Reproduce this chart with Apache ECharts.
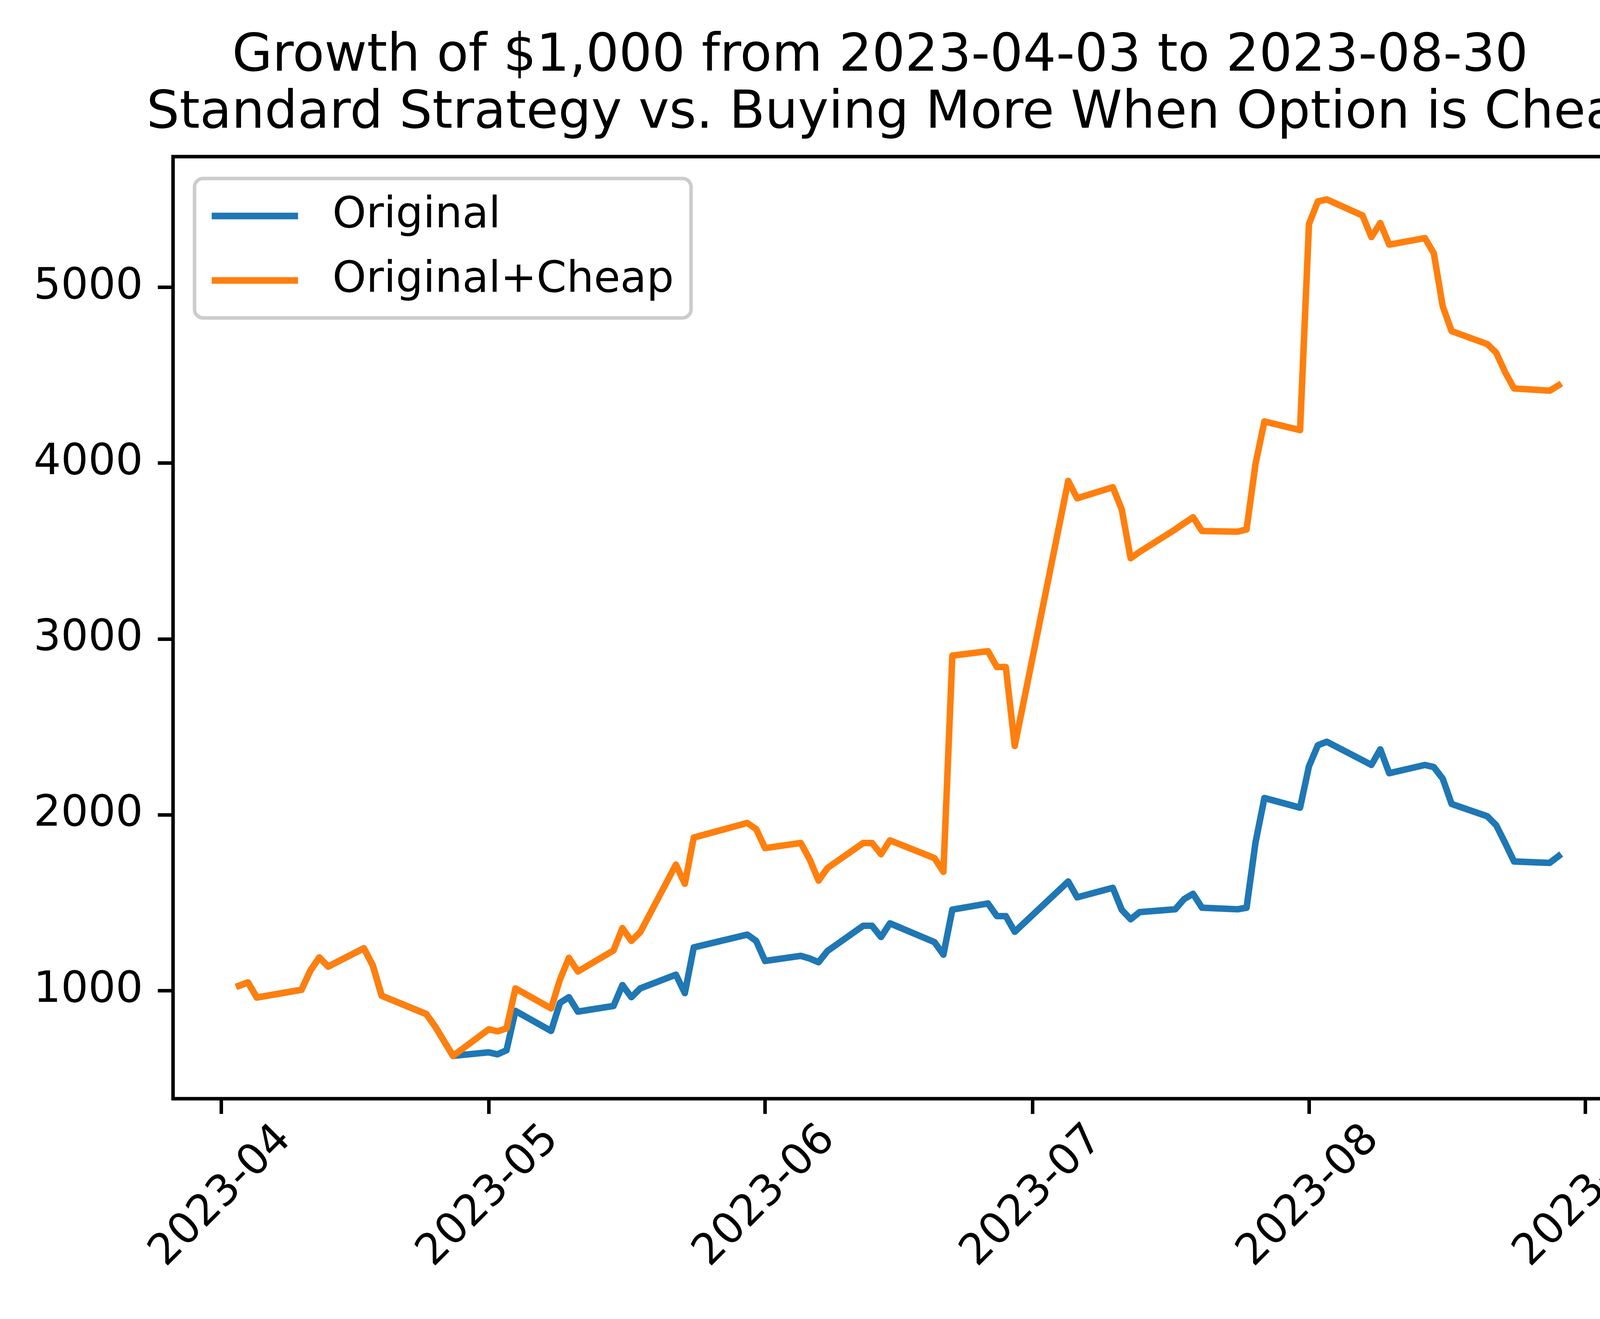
<!DOCTYPE html>
<html>
<head>
<meta charset="utf-8">
<script src="https://cdn.jsdelivr.net/npm/echarts@6/dist/echarts.min.js"></script>
<style>html,body{margin:0;padding:0;background:#fff;}#chart{width:4342px;height:3377px;}</style>
</head>
<body>
<div id="chart"></div>
<script>
// ---- data ----
const dates = [
'2023-04-03','2023-04-04','2023-04-05','2023-04-10','2023-04-11','2023-04-12','2023-04-13','2023-04-17','2023-04-18','2023-04-19','2023-04-24','2023-04-25','2023-04-27',
'2023-05-01','2023-05-02','2023-05-03','2023-05-04','2023-05-08','2023-05-09','2023-05-10','2023-05-11','2023-05-15','2023-05-16','2023-05-17','2023-05-18','2023-05-22','2023-05-23','2023-05-24','2023-05-30','2023-05-31',
'2023-06-01','2023-06-05','2023-06-06','2023-06-07','2023-06-08','2023-06-12','2023-06-13','2023-06-14','2023-06-15','2023-06-20','2023-06-21','2023-06-22','2023-06-26','2023-06-27','2023-06-28','2023-06-29',
'2023-07-05','2023-07-06','2023-07-10','2023-07-11','2023-07-12','2023-07-13','2023-07-17','2023-07-18','2023-07-19','2023-07-20','2023-07-24','2023-07-25','2023-07-26','2023-07-27','2023-07-31',
'2023-08-01','2023-08-02','2023-08-03','2023-08-07','2023-08-08','2023-08-09','2023-08-10','2023-08-14','2023-08-15','2023-08-16','2023-08-17','2023-08-21','2023-08-22','2023-08-23','2023-08-24','2023-08-28','2023-08-29'
];
const originalValues = [
1027,1046,960,1004,1113,1188,1136,1240,1143,970,866,795,628,
648,637,660,884,770,930,962,880,912,1031,962,1012,1090,985,1245,1318,1282,
1168,1197,1182,1161,1225,1368,1368,1304,1382,1275,1204,1460,1495,1423,1423,1334,
1620,1530,1584,1459,1405,1446,1462,1520,1550,1471,1462,1471,1841,2095,2040,
2276,2395,2415,2310,2283,2372,2236,2283,2271,2205,2061,1991,1940,1839,1734,1726,1765
];
const cheapValues = [
1027,1046,960,1004,1113,1188,1136,1240,1143,970,866,795,628,
779,768,784,1012,898,1063,1186,1108,1228,1355,1282,1332,1716,1607,1870,1953,1918,
1810,1839,1746,1625,1697,1839,1839,1775,1854,1753,1675,2905,2930,2840,2840,2391,
3899,3800,3863,3737,3459,3495,3623,3658,3692,3614,3610,3623,3994,4237,4188,
5360,5489,5500,5409,5286,5366,5243,5280,5194,4892,4751,4677,4628,4517,4425,4412,4443
];
const seriesNames = ['Original', 'Original+Cheap'];
const monthTicks = ['2023-04-01','2023-05-01','2023-06-01','2023-07-01','2023-08-01','2023-09-01'];
const yTicks = [1000, 2000, 3000, 4000, 5000];
const titleLines = ['Growth of $1,000 from 2023-04-03 to 2023-08-30', 'Standard Strategy vs. Buying More When Option is Cheap'];

// ---- helpers ----
function ts(s) { const p = s.split('-').map(Number); return Date.UTC(p[0], p[1] - 1, p[2]); }
function pad2(n) { return (n < 10 ? '0' : '') + n; }
const xs = dates.map(ts);
const xSpan = xs[xs.length - 1] - xs[0];
const xMin = xs[0] - 0.05 * xSpan, xMax = xs[xs.length - 1] + 0.05 * xSpan;
const allV = originalValues.concat(cheapValues);
const vMin = Math.min.apply(null, allV), vMax = Math.max.apply(null, allV);
const yMin = vMin - 0.05 * (vMax - vMin), yMax = vMax + 0.05 * (vMax - vMin);
const tickTs = monthTicks.map(ts);

const FONT = 'DejaVu Sans';
const titleStyle = {fontFamily: FONT, fontSize: 133, fontWeight: 'normal', color: '#000', lineHeight: 146};
const chart = echarts.init(document.getElementById('chart'), null, {renderer: 'canvas', width: 4342, height: 3377});
chart.setOption({
  backgroundColor: '#ffffff',
  animation: false,
  title: [
    {text: titleLines[0], left: 2253, top: 73, textAlign: 'center', padding: 0, textStyle: titleStyle},
    {text: titleLines[1], left: 2300, top: 219, textAlign: 'center', padding: 0, textStyle: titleStyle}
  ],
  legend: {
    orient: 'vertical', left: 498, top: 457,
    data: seriesNames,
    icon: 'rect', itemWidth: 221, itemHeight: 17, itemGap: 55,
    padding: [41, 44, 41, 44],
    borderColor: '#cccccc', borderWidth: 9, borderRadius: 22,
    backgroundColor: 'rgba(255,255,255,0.8)',
    textStyle: {fontFamily: FONT, fontSize: 110, lineHeight: 110, color: '#000', padding: [0, 0, 0, 83]}
  },
  grid: {left: 443, top: 401, width: 3716, height: 2412, show: true, borderColor: '#000', borderWidth: 9, backgroundColor: '#fff', containLabel: false},
  xAxis: {
    type: 'value', min: xMin, max: xMax, scale: true,
    splitLine: {show: false},
    axisLine: {show: false},
    axisTick: {show: true, length: 39, lineStyle: {color: '#000', width: 9}, customValues: tickTs},
    axisLabel: {
      customValues: tickTs, rotate: 45, align: 'center', verticalAlign: 'middle', margin: 250,
      fontFamily: FONT, fontSize: 110, color: '#000',
      formatter: function (v) { const d = new Date(v); return d.getUTCFullYear() + '-' + pad2(d.getUTCMonth() + 1); }
    }
  },
  yAxis: {
    type: 'value', min: yMin, max: yMax,
    splitLine: {show: false},
    axisLine: {show: false},
    axisTick: {show: true, length: 39, lineStyle: {color: '#000', width: 9}, customValues: yTicks},
    axisLabel: {customValues: yTicks, margin: 77, fontFamily: FONT, fontSize: 110, color: '#000', formatter: function (v) { return String(v); }}
  },
  series: [
    {name: seriesNames[0], type: 'line', showSymbol: false, symbol: 'none', data: xs.map((x, i) => [x, originalValues[i]]),
     lineStyle: {color: '#1f77b4', width: 16.6, cap: 'square', join: 'round'}, itemStyle: {color: '#1f77b4'}},
    {name: seriesNames[1], type: 'line', showSymbol: false, symbol: 'none', data: xs.map((x, i) => [x, cheapValues[i]]),
     lineStyle: {color: '#ff7f0e', width: 16.6, cap: 'square', join: 'round'}, itemStyle: {color: '#ff7f0e'}}
  ]
});
</script>
</body>
</html>
